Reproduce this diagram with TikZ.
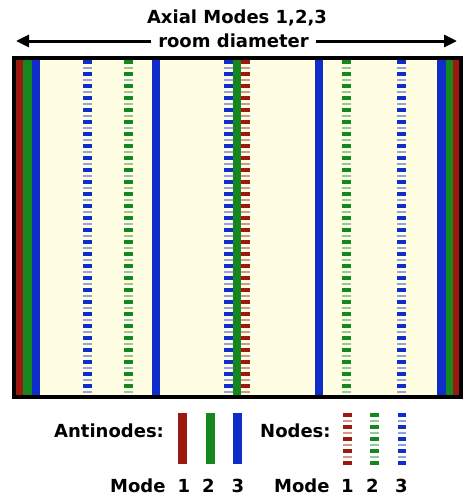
\documentclass[tikz,border=0pt]{standalone}
\usepackage{fontspec}
\setmainfont{DejaVu Sans}
\usetikzlibrary{arrows.meta}
\definecolor{mred}{RGB}{155,25,15}
\definecolor{mgreen}{RGB}{22,135,30}
\definecolor{mblue}{RGB}{15,45,200}
\definecolor{cream}{RGB}{255,253,226}
\newcommand{\dashcol}[5]{%
  \draw[#1, line width=#3pt, dash pattern=on 4pt off 8pt] (#2,#4) -- (#2,#5);
  \draw[#1!45!white, line width=#3pt, dash pattern=on 0pt off 7pt on 1.6pt off 3.4pt] (#2,#4) -- (#2,#5);}
\begin{document}
\begin{tikzpicture}[x=1pt,y=-1pt,
  lbl/.style={font=\bfseries\fontsize{18}{20}\selectfont, inner sep=0pt},
  arr/.style={line width=3pt, -{Triangle[length=13pt,width=12pt]}}]
\useasboundingbox (0,0) rectangle (474,501);
\fill[white] (0,0) rectangle (474,501);
% title and arrow
\node[lbl, anchor=base] (title) at (237,23) {Axial Modes 1,2,3};
\node[lbl, anchor=base, inner xsep=7pt] (rd) at (233.5,47) {room diameter};
\coordinate (la) at (16,41);
\coordinate (ra) at (457,41);
\draw[arr] (rd.west |- la) -- (la);
\draw[arr] (rd.east |- ra) -- (ra);
% room box
\fill[black] (12,56) rectangle (463,399);
\fill[cream] (16,60) rectangle (459,395);
% wall stripes
\fill[mred] (16,60) rectangle (22.5,395);
\fill[mgreen] (22.5,60) rectangle (31.5,395);
\fill[mblue] (31.5,60) rectangle (40,395);
\fill[mblue] (437,60) rectangle (445.5,395);
\fill[mgreen] (445.5,60) rectangle (453,395);
\fill[mred] (453,60) rectangle (459,395);
% interior antinodes
\fill[mblue] (152,60) rectangle (160,395);
\fill[mblue] (315,60) rectangle (323,395);
\fill[mgreen] (233,60) rectangle (241,395);
% interior nodes
\dashcol{mblue}{87.5}{9}{60}{395}
\dashcol{mgreen}{128.5}{9}{60}{395}
\dashcol{mblue}{228.5}{9}{60}{395}
\dashcol{mred}{245.5}{9}{60}{395}
\dashcol{mgreen}{346.5}{9}{60}{395}
\dashcol{mblue}{401.5}{9}{60}{395}
% legend
\node[lbl, anchor=base west] (anti) at (54,437) {Antinodes:};
\node[lbl, anchor=base west] (nodes) at (260,437) {Nodes:};
\fill[mred] (178,413) rectangle (187,464);
\fill[mgreen] (206,413) rectangle (215,464);
\fill[mblue] (233,413) rectangle (242,464);
\dashcol{mred}{347.5}{9}{413}{465}
\dashcol{mgreen}{374.5}{9}{413}{465}
\dashcol{mblue}{402}{8.5}{413}{465}
\node[lbl, anchor=base west] (m1) at (110,492) {Mode};
\node[lbl, anchor=base] (a1) at (184,492) {1};
\node[lbl, anchor=base] (a2) at (208.5,492) {2};
\node[lbl, anchor=base] (a3) at (238,492) {3};
\node[lbl, anchor=base west] (m2) at (274,492) {Mode};
\node[lbl, anchor=base] (b1) at (347.5,492) {1};
\node[lbl, anchor=base] (b2) at (372.5,492) {2};
\node[lbl, anchor=base] (b3) at (401.5,492) {3};
\end{tikzpicture}
\end{document}
